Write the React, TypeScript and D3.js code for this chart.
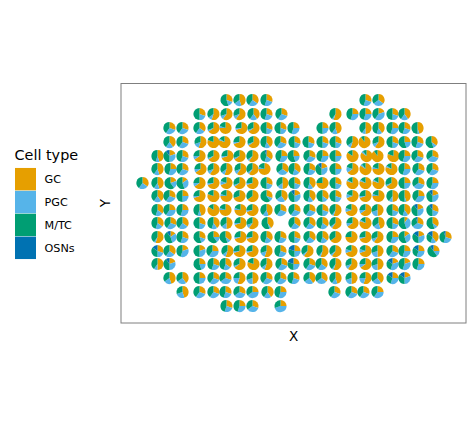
import React from "react";
import * as d3 from "d3";

const cellTypes = ["GC", "PGC", "M/TC", "OSNs"];
const cellColors = ["#E69F00", "#56B4E9", "#009E73", "#0072B2"];

// spot: [x, GC%, PGC%, M/TC%, OSNs%]
type Spot = number[];
const rowY = [100, 114, 128, 142, 156, 169, 183, 196, 210, 223, 237, 251, 264, 278, 292, 306];

const row01: Spot[] = [[226,30,15,55,0],[239,45,20,35,0],[252,35,25,40,0],[266,30,25,45,0],[365,30,25,45,0],[378,35,30,35,0]];
const row02: Spot[] = [[199,30,20,50,0],[213,55,10,35,0],[226,60,10,30,0],[239,60,10,30,0],[253,40,20,40,0],[266,30,25,45,0],[281,30,30,40,0],[335,55,5,40,0],[352,25,30,45,0],[365,25,30,45,0],[378,20,40,40,0],[392,30,20,50,0],[404,40,20,40,0]];
const row03: Spot[] = [[169,30,30,40,0],[182,30,30,40,0],[199,35,25,40,0],[213,65,5,30,0],[225,75,5,20,0],[241,70,5,25,0],[253,65,5,30,0],[266,30,20,50,0],[280,30,20,50,0],[293,25,30,45,0],[322,25,25,50,0],[335,45,15,40,0],[365,50,10,40,0],[378,40,15,45,0],[392,25,30,45,0],[404,30,25,45,0],[417,45,5,50,0]];
const row04: Spot[] = [[169,40,20,40,0],[182,30,30,40,0],[200,55,15,30,0],[213,80,0,20,0],[224,80,5,15,0],[239,70,5,25,0],[253,65,5,30,0],[266,40,15,45,0],[280,30,30,40,0],[294,30,20,50,0],[308,30,20,50,0],[322,30,20,50,0],[335,30,20,50,0],[352,55,10,35,0],[364,90,0,10,0],[378,60,10,30,0],[392,30,20,50,0],[404,25,20,55,0],[417,30,25,45,0],[431,35,10,55,0]];
const row05: Spot[] = [[157,45,10,45,0],[169,20,30,40,10],[182,30,25,45,0],[199,65,10,25,0],[213,65,5,30,0],[227,70,5,25,0],[239,65,5,30,0],[252,60,5,35,0],[266,35,20,40,5],[281,25,30,45,0],[293,25,20,55,0],[309,30,30,40,0],[322,25,30,45,0],[335,25,25,50,0],[352,85,0,15,0],[366,85,5,10,0],[377,90,0,10,0],[393,80,0,20,0],[404,25,30,45,0],[417,30,30,40,0],[432,30,35,35,0]];
const row06: Spot[] = [[157,45,15,40,0],[170,25,30,45,0],[182,30,30,40,0],[200,65,10,25,0],[213,60,10,30,0],[226,55,10,35,0],[240,60,10,30,0],[252,60,5,35,0],[264,75,5,20,0],[282,35,30,35,0],[294,35,20,45,0],[309,30,25,45,0],[321,20,30,40,10],[335,25,25,50,0],[352,65,15,20,0],[365,85,5,10,0],[378,75,5,20,0],[391,80,5,15,0],[404,25,30,45,0],[418,30,30,40,0],[432,30,30,40,0]];
const row07: Spot[] = [[142,35,25,40,0],[157,45,15,40,0],[170,20,20,60,0],[182,15,30,55,0],[199,65,10,25,0],[213,70,5,25,0],[226,70,10,20,0],[239,65,5,30,0],[252,70,5,25,0],[266,30,20,50,0],[282,50,15,35,0],[294,30,20,50,0],[309,40,15,45,0],[322,75,0,25,0],[335,30,20,50,0],[352,80,5,15,0],[365,80,5,15,0],[378,80,5,15,0],[391,65,5,30,0],[404,25,25,50,0],[418,30,35,35,0],[432,25,30,45,0]];
const row08: Spot[] = [[157,40,20,40,0],[169,30,30,40,0],[182,25,25,50,0],[199,70,5,25,0],[213,80,0,20,0],[226,75,5,20,0],[239,70,0,30,0],[252,65,0,35,0],[266,30,10,60,0],[281,40,25,35,0],[294,20,30,40,10],[309,40,15,45,0],[322,35,15,50,0],[335,30,20,50,0],[352,70,10,20,0],[365,70,5,25,0],[378,75,5,20,0],[392,50,10,40,0],[404,45,5,50,0],[418,25,35,40,0],[432,20,30,40,10]];
const row09: Spot[] = [[157,35,20,45,0],[169,25,35,40,0],[182,25,30,45,0],[199,45,10,45,0],[213,85,0,15,0],[225,75,5,20,0],[240,75,5,20,0],[252,70,5,25,0],[266,45,15,40,0],[280,30,30,40,0],[294,30,30,40,0],[309,30,30,40,0],[322,30,20,50,0],[335,55,5,40,0],[351,70,10,20,0],[365,65,10,25,0],[377,50,20,30,0],[392,30,20,50,0],[404,40,15,45,0],[417,20,30,40,10],[432,30,20,40,10]];
const row10: Spot[] = [[157,35,20,45,0],[170,30,30,40,0],[182,35,25,40,0],[199,30,20,50,0],[213,40,15,45,0],[226,50,15,35,0],[240,70,5,25,0],[252,60,10,30,0],[267,40,5,55,0],[294,35,25,40,0],[309,35,25,40,0],[322,35,20,45,0],[335,60,5,35,0],[352,65,10,25,0],[365,80,5,15,0],[378,45,20,35,0],[392,30,20,50,0],[404,10,35,55,0],[417,30,35,30,5],[432,35,10,55,0]];
const row11: Spot[] = [[157,55,5,40,0],[170,15,30,45,10],[182,30,25,45,0],[199,30,15,55,0],[213,25,15,60,0],[225,35,10,55,0],[240,70,5,25,0],[252,70,5,25,0],[266,35,20,45,0],[280,30,25,45,0],[294,30,20,50,0],[309,35,25,40,0],[322,35,20,45,0],[335,65,0,35,0],[351,75,0,25,0],[365,70,5,25,0],[377,60,10,30,0],[392,25,30,45,0],[404,15,30,55,0],[418,20,30,35,15],[432,40,15,30,15],[445,30,25,40,5]];
const row12: Spot[] = [[157,30,20,35,15],[169,35,25,40,0],[182,20,35,45,0],[199,20,30,50,0],[212,25,35,40,0],[227,55,10,35,0],[239,70,5,25,0],[252,70,5,25,0],[266,55,15,30,0],[280,30,25,45,0],[294,25,25,30,20],[307,60,5,35,0],[322,55,5,40,0],[335,60,5,35,0],[351,70,10,20,0],[365,70,10,20,0],[377,50,20,30,0],[392,30,30,40,0],[404,25,30,45,0],[418,25,30,30,15],[433,25,15,50,10]];
const row13: Spot[] = [[157,50,10,40,0],[169,20,30,40,10],[199,25,20,55,0],[213,30,25,45,0],[225,35,20,45,0],[239,65,5,30,0],[253,80,0,20,0],[266,55,10,35,0],[281,30,30,40,0],[293,25,25,30,20],[309,30,30,40,0],[321,35,25,40,0],[335,55,5,40,0],[351,60,10,30,0],[365,65,10,25,0],[377,50,20,30,0],[392,20,35,30,15],[404,20,35,45,0],[418,25,30,45,0]];
const row14: Spot[] = [[169,45,20,35,0],[182,40,25,35,0],[199,25,25,50,0],[213,30,30,40,0],[225,30,35,35,0],[239,55,20,25,0],[252,50,20,30,0],[266,30,30,40,0],[280,30,30,40,0],[293,30,25,45,0],[309,40,25,35,0],[321,35,30,35,0],[335,45,15,40,0],[351,50,20,30,0],[365,55,20,25,0],[377,40,25,35,0],[392,25,30,30,15],[404,20,30,35,15]];
const row15: Spot[] = [[182,45,25,30,0],[199,30,30,40,0],[213,30,30,40,0],[225,30,25,45,0],[239,30,35,35,0],[252,25,40,35,0],[267,40,20,40,0],[280,25,30,45,0],[334,30,30,40,0],[351,30,30,40,0],[363,30,30,40,0],[377,25,35,40,0]];
const row16: Spot[] = [[226,30,25,45,0],[239,25,30,45,0],[252,30,35,35,0],[280,25,45,30,0]];

const rows = [row01, row02, row03, row04, row05, row06, row07, row08, row09, row10, row11, row12, row13, row14, row15, row16];

const W = 474;
const H = 427;
const panel = { left: 121.5, right: 466, top: 83.5, bottom: 323 };
const radius = 6.1;

export default function App() {
  const x = d3.scaleLinear().domain([panel.left, panel.right]).range([panel.left + 0.5, panel.right + 0.5]);
  const y = d3.scaleLinear().domain([panel.top, panel.bottom]).range([panel.top, panel.bottom]);
  const pie = d3.pie<number>().value((d) => d).sort(null);
  const arc = d3.arc<d3.PieArcDatum<number>>().innerRadius(0).outerRadius(radius);
  const legendY = d3.scaleBand<string>().domain(cellTypes).range([167.5, 259.5]).padding(0.02);

  return (
    <svg
      width={W}
      height={H}
      viewBox={`0 0 ${W} ${H}`}
      style={{ position: "absolute", left: 0, top: 0, display: "block", background: "#fff" }}
      fontFamily="'DejaVu Sans', sans-serif"
    >
      <defs>
        <filter id="soft" x="-5%" y="-5%" width="110%" height="110%">
          <feGaussianBlur stdDeviation={0.3} />
        </filter>
      </defs>
      <rect
        x={panel.left - 0.5}
        y={panel.top}
        width={panel.right - panel.left + 0.5}
        height={panel.bottom - panel.top}
        fill="#fff"
        stroke="#7f7f7f"
        strokeWidth={1}
      />
      <g filter="url(#soft)">
        {rows.map((row, i) =>
          row.map((spot, j) => (
            <g key={`${i}-${j}`} transform={`translate(${x(spot[0])},${y(rowY[i])})`}>
              {pie(spot.slice(1)).map((a, k) =>
                a.value > 0 ? <path key={k} d={arc(a) ?? ""} fill={cellColors[k]} /> : null
              )}
            </g>
          ))
        )}
      </g>
      <text x={293.5} y={341} fontSize={13.5} textAnchor="middle" fill="#000">X</text>
      <text transform="translate(110,203) rotate(-90)" fontSize={13.5} textAnchor="middle" fill="#000">Y</text>
      <text x={14.5} y={160} fontSize={14.4} fill="#000">Cell type</text>
      {cellTypes.map((t, i) => (
        <g key={t}>
          <rect x={15} y={legendY(t)} width={21} height={legendY.bandwidth()} fill={cellColors[i]} />
          <text x={44.5} y={(legendY(t) ?? 0) + legendY.bandwidth() / 2 + 4} fontSize={11.2} fill="#000">{t}</text>
        </g>
      ))}
    </svg>
  );
}
